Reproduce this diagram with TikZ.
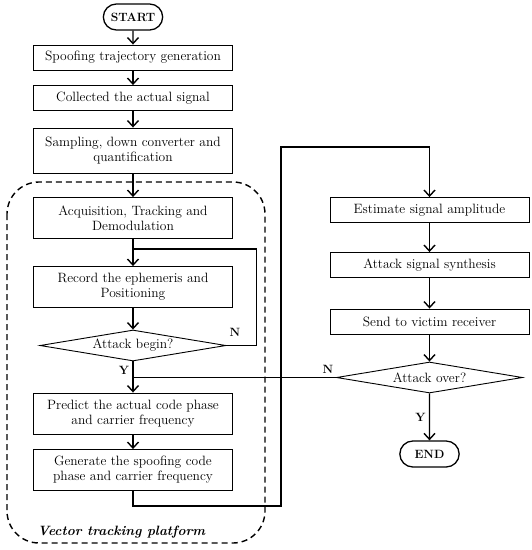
\documentclass[tikz,border=0pt]{standalone}
\usetikzlibrary{positioning, arrows.meta, shapes}

\begin{document}
\begin{tikzpicture}[
		x=1pt, y=-1pt,
		>={Straight Barb[length=6pt, width=11pt, line width=1.4pt]},
		font=\fontsize{13.5}{15}\selectfont,
		pbox/.style={draw, line width=0.9pt, rectangle, minimum width=199pt, minimum height=25pt, align=center, inner sep=1pt},
		pbig/.style={pbox, minimum height=41pt},
		term/.style={draw, rounded rectangle, line width=1.3pt, minimum width=66pt, minimum height=26pt, font=\fontsize{12}{14}\selectfont\bfseries},
		decide/.style={draw, line width=0.9pt, diamond, aspect=6, inner sep=0pt, minimum width=186pt, minimum height=31pt},
		flow/.style={->, line width=1.4pt},
		lbl/.style={font=\fontsize{12}{13}\selectfont\bfseries},
	]
	\useasboundingbox (0, 0) rectangle (532, 550);

	% dashed platform frame
	\draw[line width=1.4pt, dash pattern=on 6pt off 4pt, rounded corners=32pt] (7, 182) rectangle (265, 543);
	\node[anchor=west, font=\fontsize{13.5}{15}\selectfont\bfseries\itshape] (vtp) at (34, 532) {Vector tracking platform};

	\node[term] (start) at (133, 17) {START};
	\node[pbox] (traj) at (133, 57.5) {Spoofing trajectory generation};
	\node[pbox] (coll) at (133, 98) {Collected the actual signal};
	\node[pbig, minimum height=45pt] (samp) at (133, 150.5) {Sampling, down converter and\\quantification};
	\node[pbig] (acq) at (133, 218) {Acquisition, Tracking and\\Demodulation};
	\node[pbig] (rec) at (133, 287) {Record the ephemeris and\\Positioning};
	\node[decide] (begin) at (133, 345.5) {Attack begin?};
	\node[pbig] (pred) at (133, 413.5) {Predict the actual code phase\\and carrier frequency};
	\node[pbig] (gen) at (133, 470) {Generate the spoofing code\\phase and carrier frequency};

	\node[pbox] (amp) at (429.5, 210) {Estimate signal amplitude};
	\node[pbox] (synth) at (429.5, 265) {Attack signal synthesis};
	\node[pbox] (send) at (429.5, 321.5) {Send to victim receiver};
	\node[decide] (over) at (429.5, 377.5) {Attack over?};
	\node[term] (end) at (429.5, 454) {END};

	\coordinate (loopin) at (133, 249);
	\coordinate (merge) at (133, 377.5);
	\coordinate (down) at (133, 506);
	\coordinate (up) at (281, 147);

	\draw[flow] (start) -- (traj);
	\draw[flow] (traj) -- (coll);
	\draw[flow] (coll) -- (samp);
	\draw[flow] (samp) -- (acq);
	\draw[flow] (acq) -- (rec);
	\draw[flow] (rec) -- (begin);
	\draw[flow, -] (begin.east) -- ++(30, 0) |- (loopin);
	\node[lbl] at (235, 332) {N};

	\draw[flow] (begin) -- node[lbl, pos=0.3, left] {Y} (pred);
	\draw[flow] (pred) -- (gen);
	\draw[flow, -] (over.west) -- node[lbl, pos=0.04, above] {N} (merge);

	\draw[flow] (gen.south) -- (down) -| (up) -| (amp.north);
	\draw[flow] (amp) -- (synth);
	\draw[flow] (synth) -- (send);
	\draw[flow] (send) -- (over);
	\draw[flow] (over) -- node[lbl, left] {Y} (end);
\end{tikzpicture}
\end{document}
